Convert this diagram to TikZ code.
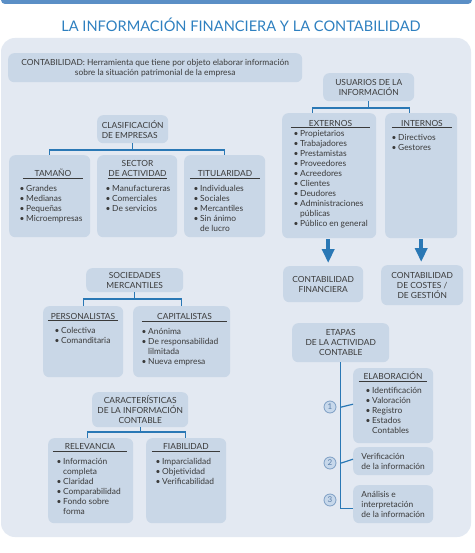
\documentclass[tikz,border=0pt]{standalone}
\usepackage{fontspec}
\setmainfont{Lato}
\usetikzlibrary{arrows.meta}
\definecolor{panelc}{HTML}{E3E9F2}
\definecolor{boxc}{HTML}{C9D7E7}
\definecolor{bluec}{HTML}{2A78B5}
\definecolor{titlec}{HTML}{2E80C0}
\definecolor{txtc}{HTML}{3A3A3A}
\definecolor{barc}{HTML}{5B8FC6}
\definecolor{circc}{HTML}{C7D8EB}
\definecolor{circd}{HTML}{7D9EC4}
\definecolor{circt}{HTML}{5A7DA8}
\newcommand\bu{\makebox[6.5pt][l]{\textbullet}}
\newcommand\ind{\hspace*{6.5pt}}
\newcommand\bx[6][]{\node[boxst,anchor=north west,minimum width={(#5-#3)*1pt},minimum height={(#6-#4)*1pt},#1] (#2) at (#3,#4)}
\begin{document}
\begin{tikzpicture}[x=1pt,y=-1pt,
  every node/.style={font=\fontsize{8.4}{10}\selectfont, text=txtc},
  boxst/.style={fill=boxc, rounded corners=6pt, inner sep=0pt, align=center},
  hdr/.style={inner xsep=0pt, inner ysep=1.2pt, text depth=0pt, anchor=south, align=center},
  uline/.style={draw=txtc, line width=0.6pt},
  lst/.style={anchor=north west, inner sep=0pt, align=left},
  conn/.style={draw=bluec, line width=1.2pt},
  bigarrow/.style={draw=bluec, line width=4pt, -{Triangle[width=12pt,length=14pt]}},
  num/.style={circle, draw=circd, fill=circc, line width=0.8pt, inner sep=0pt, minimum size=12pt, font=\fontsize{8}{8}\selectfont, text=circt}
]
\useasboundingbox (0,0) rectangle (474,553);
\fill[white] (0,0) rectangle (474,553);
\fill[barc, rounded corners=4pt] (1,-8) rectangle (472,4);
\fill[panelc, rounded corners=14pt] (1,38) rectangle (471,537);
\node[font=\fontsize{14.6}{15}\selectfont, text=titlec] (title) at (241,25) {LA INFORMACIÓN FINANCIERA Y LA CONTABILIDAD};

% definition
\bx{def}{8}{53}{302}{82} {CONTABILIDAD: Herramienta que tiene por objeto elaborar información\\sobre la situación patrimonial de la empresa};

% usuarios
\bx{usu}{323}{73}{414}{101} {USUARIOS DE LA\\INFORMACIÓN};
\bx{ext}{282}{113}{376}{238} {};
\bx{int}{385}{113}{457}{238} {};
\node[hdr, minimum width=79pt] (hext) at (330.5,127.5) {EXTERNOS};
\draw[uline] (hext.south west) -- (hext.south east);
\node[hdr, minimum width=60pt] (hint) at (422,127.5) {INTERNOS};
\draw[uline] (hint.south west) -- (hint.south east);
\node[lst] (lext) at (293.5,130.5) {\bu Propietarios\\\bu Trabajadores\\\bu Prestamistas\\\bu Proveedores\\\bu Acreedores\\\bu Clientes\\\bu Deudores\\\bu Administraciones\\\ind públicas\\\bu Público en general};
\node[lst] (lint) at (391.5,134.5) {\bu Directivos\\\bu Gestores};
\draw[conn] (usu.south) -- ++(0,7);
\draw[conn] ([xshift=-17pt]ext.north) -- ++(0,-5) -| ([xshift=-12pt]int.north);
\bx{cfin}{283}{266}{363}{302} {CONTABILIDAD\\FINANCIERA};
\bx{ccos}{381}{265}{463}{305} {CONTABILIDAD\\DE COSTES /\\DE GESTIÓN};
\draw[bigarrow, shorten >=3pt] ([xshift=-1pt,yshift=-1pt]ext.south) -- ([xshift=-1pt]ext.south |- cfin.north);
\draw[bigarrow, shorten >=3pt] ([yshift=-1pt]int.south) -- (int.south |- ccos.north);

% clasificacion
\bx{clas}{97}{115}{168}{143}[align=left] {CLASIFICACIÓN\\DE EMPRESAS};
\bx{tam}{9}{155}{90}{237} {};
\bx{sec}{97}{155}{177}{237} {};
\bx{tit}{184}{155}{265}{237} {};
\draw[conn] (clas.south) -- ++(0,7);
\draw[conn] (tam.north) -- ++(0,-5) -| (tit.north);
\node[hdr, minimum width=60pt] (htam) at (53,178) {TAMAÑO};
\draw[uline] (htam.south west) -- (htam.south east);
\node[hdr, minimum width=59pt] (hsec) at (137.5,178) {SECTOR\\DE ACTIVIDAD};
\draw[uline] (hsec.south west) -- (hsec.south east);
\node[hdr, minimum width=70pt] (htit) at (225,178) {TITULARIDAD};
\draw[uline] (htit.south west) -- (htit.south east);
\node[lst] (ltam) at (19.5,185.5) {\bu Grandes\\\bu Medianas\\\bu Pequeñas\\\bu Microempresas};
\node[lst] (lsec) at (105.5,185.5) {\bu Manufactureras\\\bu Comerciales\\\bu De servicios};
\node[lst] (ltit) at (193.5,185.5) {\bu Individuales\\\bu Sociales\\\bu Mercantiles\\\bu Sin ánimo\\\ind de lucro};

% sociedades
\bx{soc}{86}{268}{183}{292} {SOCIEDADES\\MERCANTILES};
\bx{per}{43}{306}{123}{377} {};
\bx{cap}{133}{306}{230}{377} {};
\draw[conn] (soc.south) -- ++(0,7);
\draw[conn] (per.north) -- ++(0,-7) -| (cap.north);
\node[hdr, minimum width=70pt] (hper) at (83,320.5) {PERSONALISTAS};
\draw[uline] (hper.south west) -- (hper.south east);
\node[hdr, minimum width=85pt] (hcap) at (184.5,321) {CAPITALISTAS};
\draw[uline] (hcap.south west) -- (hcap.south east);
\node[lst] (lper) at (54.5,327.5) {\bu Colectiva\\\bu Comanditaria};
\node[lst] (lcap) at (141.5,328.5) {\bu Anónima\\\bu De responsabilidad\\\ind lilmitada\\\bu Nueva empresa};

% caracteristicas
\bx{car}{92}{392}{188}{427} {CARACTERÍSTICAS\\DE LA INFORMACIÓN\\CONTABLE};
\bx{rel}{48}{438}{133}{523} {};
\bx{fia}{146}{438}{226}{523} {};
\draw[conn] (car.south) -- ++(0,5);
\draw[conn] ([xshift=-3pt]rel.north) -- ++(0,-6) -| ([xshift=-1pt]fia.north);
\node[hdr, minimum width=74pt] (hrel) at (90,451) {RELEVANCIA};
\draw[uline] (hrel.south west) -- (hrel.south east);
\node[hdr, minimum width=68pt] (hfia) at (186,451) {FIABILIDAD};
\draw[uline] (hfia.south west) -- (hfia.south east);
\node[lst] (lrel) at (56.5,458.5) {\bu Información\\\ind completa\\\bu Claridad\\\bu Comparabilidad\\\bu Fondo sobre\\\ind forma};
\node[lst] (lfia) at (155.5,458.5) {\bu Imparcialidad\\\bu Objetividad\\\bu Verificabilidad};

% etapas
\bx{eta}{292}{323}{389}{362} {ETAPAS\\DE LA ACTIVIDAD\\CONTABLE};
\bx{ela}{353}{368}{433}{443} {};
\bx{ver}{353}{447}{433}{475}[align=left] {Verificación\\de la información};
\bx{ana}{353}{485}{433}{523}[align=left] {Análisis e\\interpretación\\de la información};
\node[hdr, minimum width=68pt] (hela) at (393,381) {ELABORACIÓN};
\draw[uline] (hela.south west) -- (hela.south east);
\node[lst] (lela) at (365.5,387.5) {\bu Identificación\\\bu Valoración\\\bu Registro\\\bu Estados\\\ind Contables};
\draw[conn] (eta.south) |- ([yshift=-4pt]ana.west);
\draw[conn] (eta.south |- ela.west) ++(0,1.5) -- ([yshift=1.5pt]ela.west);
\draw[conn] (eta.south |- ver.west) ++(0,2) -- ([yshift=2pt]ver.west);
\node[num] (c1) at (330,407) {1};
\node[num] (c2) at (330,463) {2};
\node[num] (c3) at (330,500) {3};
\end{tikzpicture}
\end{document}
